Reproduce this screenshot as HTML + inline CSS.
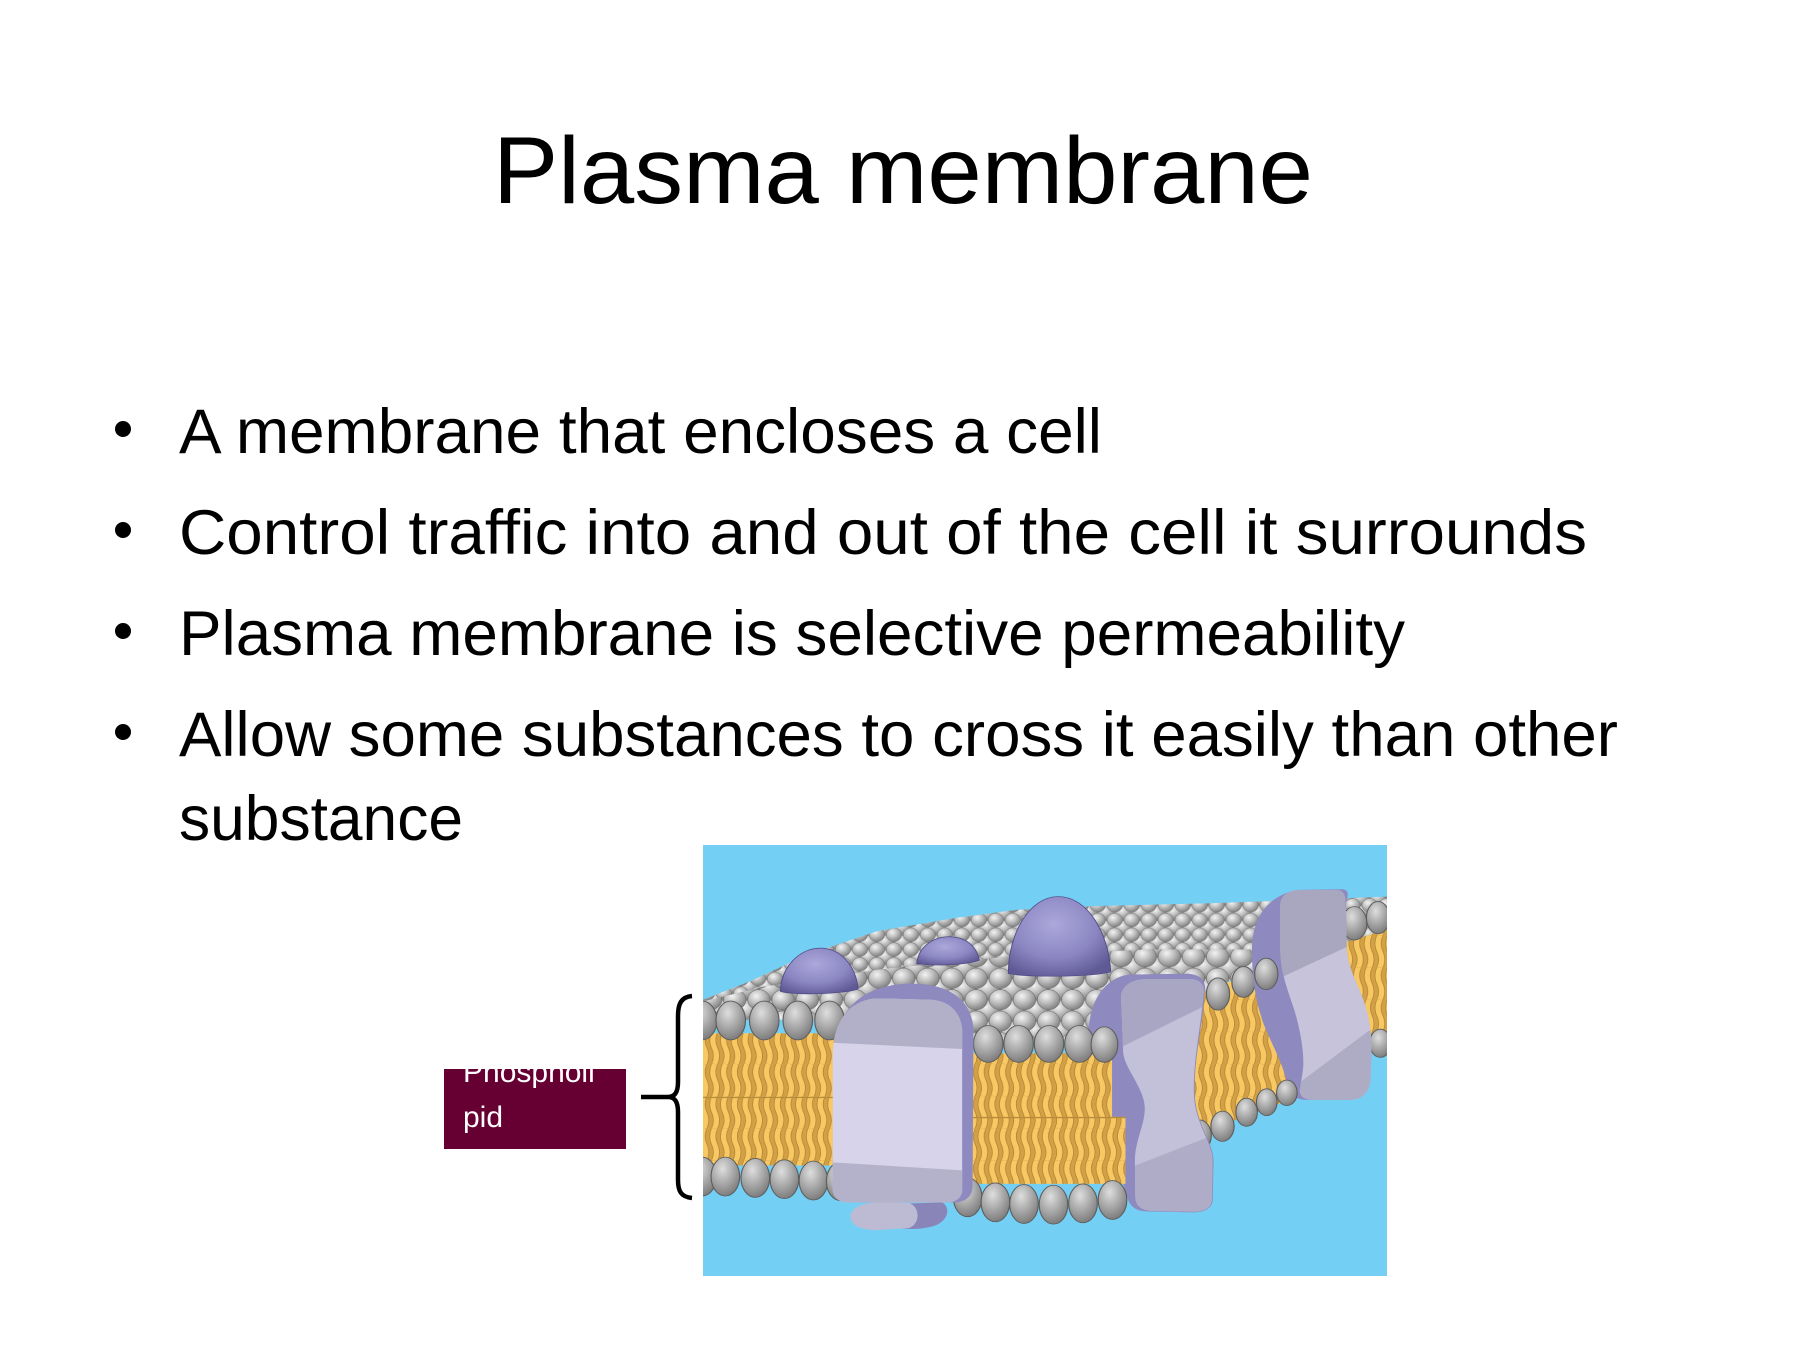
<!DOCTYPE html>
<html>
<head>
<meta charset="utf-8">
<style>
html,body{margin:0;padding:0;background:#ffffff;}
body{width:1800px;height:1351px;overflow:hidden;position:relative;}
svg.main{position:absolute;left:0;top:0;}
</style>
</head>
<body>
<svg class="main" width="1800" height="1351" viewBox="0 0 1800 1351" xmlns="http://www.w3.org/2000/svg">
  <defs>
    <clipPath id="boxclip"><rect x="444" y="1069" width="182" height="80"/></clipPath>
  </defs>
  <rect x="0" y="0" width="1800" height="1351" fill="#ffffff"/>

  <!-- Title -->
  <text x="493" y="203" font-family="'Liberation Sans', Arial, sans-serif" font-size="95" fill="#000" textLength="820" lengthAdjust="spacingAndGlyphs">Plasma membrane</text>

  <!-- Bullets -->
  <g fill="#000">
    <circle cx="123" cy="429" r="8"/>
    <circle cx="123" cy="530" r="8"/>
    <circle cx="123" cy="631" r="8"/>
    <circle cx="123" cy="732" r="8"/>
  </g>
  <g font-family="'Liberation Sans', Arial, sans-serif" font-size="63" fill="#000">
    <text x="179" y="453" textLength="923" lengthAdjust="spacingAndGlyphs">A membrane that encloses a cell</text>
    <text x="179" y="554" textLength="1408" lengthAdjust="spacingAndGlyphs">Control traffic into and out of the cell it surrounds</text>
    <text x="179" y="655" textLength="1226" lengthAdjust="spacingAndGlyphs">Plasma membrane is selective permeability</text>
    <text x="179" y="756" textLength="1439" lengthAdjust="spacingAndGlyphs">Allow some substances to cross it easily than other</text>
    <text x="179" y="840" textLength="284" lengthAdjust="spacingAndGlyphs">substance</text>
  </g>

  <!-- Label box -->
  <rect x="444" y="1069" width="182" height="80" fill="#660033"/>
  <g clip-path="url(#boxclip)" font-family="'Liberation Sans', Arial, sans-serif" font-size="30" fill="#ffffff">
    <text x="463" y="1082">Phospholi</text>
    <text x="463" y="1127">pid</text>
    <text x="463" y="1172">bilayer</text>
  </g>

  <!-- Brace -->
  <path d="M692,996 C681,997 678,1004 678,1016 L678,1082 C678,1092 675,1097 668,1097 L641,1097 M668,1097 C675,1097 678,1102 678,1112 L678,1180 C678,1191 681,1197 692,1198" fill="none" stroke="#000" stroke-width="4.5"/>

  <!-- Membrane illustration -->
  <svg x="703" y="845" width="684" height="431" viewBox="10 18 1530 1287" preserveAspectRatio="none">
    <defs>
      <radialGradient id="bg1" cx="0.38" cy="0.32" r="0.72">
        <stop offset="0" stop-color="#f3f3f3"/>
        <stop offset="0.45" stop-color="#c2c2c2"/>
        <stop offset="1" stop-color="#7d7d7d"/>
      </radialGradient>
      <radialGradient id="hg" cx="0.4" cy="0.3" r="0.78">
        <stop offset="0" stop-color="#dedede"/>
        <stop offset="0.5" stop-color="#a8a8a8"/>
        <stop offset="1" stop-color="#737373"/>
      </radialGradient>
      <radialGradient id="dg" cx="0.45" cy="0.35" r="0.7">
        <stop offset="0" stop-color="#aca8dc"/>
        <stop offset="0.6" stop-color="#8b86c1"/>
        <stop offset="1" stop-color="#5f5a96"/>
      </radialGradient>
      <pattern id="pn" patternUnits="userSpaceOnUse" width="54" height="64">
        <rect width="54" height="64" fill="#8c8c8c"/>
        <g fill="url(#bg1)" stroke="#6e6e6e" stroke-width="1.5">
          <ellipse cx="0" cy="0" rx="25" ry="30"/>
          <ellipse cx="54" cy="0" rx="25" ry="30"/>
          <ellipse cx="0" cy="64" rx="25" ry="30"/>
          <ellipse cx="54" cy="64" rx="25" ry="30"/>
          <ellipse cx="27" cy="32" rx="25" ry="30"/>
        </g>
      </pattern>
      <pattern id="pf" patternUnits="userSpaceOnUse" width="38" height="44">
        <rect width="38" height="44" fill="#939393"/>
        <g fill="url(#bg1)" stroke="#767676" stroke-width="1.2">
          <ellipse cx="0" cy="0" rx="17" ry="20"/>
          <ellipse cx="38" cy="0" rx="17" ry="20"/>
          <ellipse cx="0" cy="44" rx="17" ry="20"/>
          <ellipse cx="38" cy="44" rx="17" ry="20"/>
          <ellipse cx="19" cy="22" rx="17" ry="20"/>
        </g>
      </pattern>
      <pattern id="tl" patternUnits="userSpaceOnUse" width="24" height="96">
        <rect width="24" height="96" fill="#d3a144"/>
        <path d="M12,0 C6.5,16 6.5,32 12,48 C17.5,64 17.5,80 12,96" fill="none" stroke="#a77e38" stroke-width="15"/>
        <path d="M12,0 C6.5,16 6.5,32 12,48 C17.5,64 17.5,80 12,96" fill="none" stroke="#f8c862" stroke-width="12"/>
      </pattern>
      <clipPath id="c1"><path d="M300,650 C300,545 338,480 400,476 L522,480 C565,486 588,522 590,575 L590,1045 C590,1072 575,1086 552,1086 L338,1086 C312,1086 300,1068 300,1045 Z"/></clipPath>
      <clipPath id="c2"><path d="M945,470 C948,432 975,418 1005,418 L1100,418 C1122,420 1132,435 1130,460 L1125,520 C1118,600 1106,680 1108,760 C1110,850 1148,900 1150,960 L1148,1080 C1146,1104 1130,1113 1105,1113 L1010,1110 C990,1108 978,1095 977,1070 L976,960 C976,900 1000,850 998,800 C995,740 955,690 950,640 Z"/></clipPath>
      <clipPath id="c3"><path d="M1301,200 C1301,170 1320,152 1345,152 L1425,152 C1440,152 1447,165 1447,185 L1450,330 C1455,400 1480,440 1492,500 C1502,545 1505,575 1505,640 L1503,720 C1500,760 1482,779 1458,779 L1375,779 C1355,779 1345,768 1345,750 L1352,690 C1356,640 1345,560 1330,500 C1315,440 1303,400 1301,330 Z"/></clipPath>
    </defs>

    <rect x="0" y="0" width="1600" height="1400" fill="#74cff4"/>

    <!-- top surface -->
    <polygon points="10,480 115,425 244,345 400,275 580,235 708,212 890,200 1146,192 1540,172 1540,340 1250,335 1000,335 700,355 400,395 150,445 10,490" fill="url(#pf)"/>
    <polygon points="10,485 150,440 400,390 700,350 1000,330 1250,330 1300,365 1100,470 960,520 945,600 620,600 330,540 10,540" fill="url(#pn)"/>

    <!-- domes -->
    <g fill="url(#dg)" stroke="#4f4a85" stroke-width="2">
      <path d="M183,455 C185,383 225,326 272,326 C318,326 352,378 357,448 C330,463 210,468 183,455 Z"/>
      <path d="M488,372 C492,322 525,292 560,292 C595,292 622,317 628,362 C600,377 520,380 488,372 Z"/>
      <path d="M693,402 C693,282 740,172 805,172 C870,172 918,282 922,397 C880,412 740,414 693,402 Z"/>
    </g>

    <!-- side face -->
    <polygon points="1100,470 1300,370 1540,270 1540,600 1300,790 1100,890" fill="url(#tl)"/>
    <g fill="url(#hg)" stroke="#5c5c5c" stroke-width="2.5">
      <ellipse cx="1162" cy="463" rx="26" ry="48"/>
      <ellipse cx="1219" cy="427" rx="26" ry="46"/>
      <ellipse cx="1467" cy="252" rx="28" ry="50"/>
      <ellipse cx="1520" cy="235" rx="26" ry="48"/>
      <ellipse cx="1120" cy="885" rx="27" ry="46"/>
      <ellipse cx="1172" cy="858" rx="26" ry="45"/>
      <ellipse cx="1226" cy="816" rx="24" ry="42"/>
      <ellipse cx="1525" cy="610" rx="24" ry="42"/>
    </g>

    <!-- P3 -->
    <path d="M1238,330 C1238,240 1270,170 1340,152 L1440,150 C1460,152 1450,175 1448,200 L1450,330 C1455,400 1480,440 1490,500 C1500,540 1505,570 1505,640 L1503,720 C1500,760 1480,779 1455,779 L1360,779 C1335,779 1322,760 1318,735 C1305,660 1280,610 1262,545 C1246,480 1238,420 1238,330 Z" fill="#8e89bf"/>
    <g clip-path="url(#c3)">
      <rect x="1280" y="100" width="260" height="720" fill="#c6c3da"/>
      <polygon points="1280,100 1520,100 1520,279 1280,428" fill="#a9a7bf"/>
      <polygon points="1280,792 1520,552 1520,800 1280,800" fill="#aeacc4"/>
    </g>
    <g fill="url(#hg)" stroke="#5c5c5c" stroke-width="2.5">
      <ellipse cx="1270" cy="403" rx="26" ry="47"/>
      <ellipse cx="1271" cy="786" rx="23" ry="40"/>
      <ellipse cx="1316" cy="758" rx="23" ry="38"/>
    </g>

    <!-- P2 -->
    <path d="M872,600 C870,500 900,420 960,405 L1095,402 C1120,405 1135,420 1133,450 L1128,520 C1120,600 1108,680 1110,760 C1112,850 1150,900 1152,960 L1150,1080 C1148,1105 1130,1115 1105,1115 L1000,1112 C975,1110 962,1092 958,1065 C945,990 905,920 892,850 C878,780 872,700 872,600 Z" fill="#8e89bf"/>
    <g clip-path="url(#c2)">
      <rect x="860" y="300" width="300" height="830" fill="#c3c1d9"/>
      <polygon points="860,300 1160,300 1160,480 860,678" fill="#a8a6c2"/>
      <polygon points="860,1036 1160,880 1160,1130 860,1130" fill="#aeacc6"/>
    </g>

    <!-- middle block -->
    <polygon points="600,640 925,640 925,835 600,835" fill="url(#tl)"/>
    <polygon points="600,830 955,830 955,1030 600,1030" fill="url(#tl)"/>
    <line x1="600" y1="832" x2="955" y2="832" stroke="#b98c3c" stroke-width="4"/>
    <g fill="url(#hg)" stroke="#5c5c5c" stroke-width="2.5">
      <ellipse cx="648" cy="612" rx="33" ry="55"/>
      <ellipse cx="716" cy="612" rx="33" ry="55"/>
      <ellipse cx="784" cy="612" rx="33" ry="55"/>
      <ellipse cx="852" cy="612" rx="33" ry="55"/>
      <ellipse cx="908" cy="614" rx="30" ry="53"/>
      <ellipse cx="602" cy="1070" rx="32" ry="58"/>
      <ellipse cx="664" cy="1085" rx="32" ry="58"/>
      <ellipse cx="728" cy="1090" rx="32" ry="58"/>
      <ellipse cx="794" cy="1092" rx="32" ry="58"/>
      <ellipse cx="860" cy="1088" rx="32" ry="58"/>
      <ellipse cx="926" cy="1078" rx="32" ry="58"/>
    </g>

    <!-- left block -->
    <rect x="0" y="580" width="340" height="195" fill="url(#tl)"/>
    <rect x="0" y="770" width="340" height="205" fill="url(#tl)"/>
    <line x1="0" y1="772" x2="340" y2="772" stroke="#b98c3c" stroke-width="4"/>
    <g fill="url(#hg)" stroke="#5c5c5c" stroke-width="2.5">
      <ellipse cx="8" cy="542" rx="33" ry="58"/>
      <ellipse cx="72" cy="542" rx="33" ry="58"/>
      <ellipse cx="147" cy="542" rx="33" ry="58"/>
      <ellipse cx="222" cy="542" rx="33" ry="58"/>
      <ellipse cx="293" cy="542" rx="33" ry="58"/>
      <ellipse cx="8" cy="1008" rx="32" ry="58"/>
      <ellipse cx="60" cy="1008" rx="32" ry="58"/>
      <ellipse cx="127" cy="1012" rx="32" ry="58"/>
      <ellipse cx="192" cy="1016" rx="32" ry="58"/>
      <ellipse cx="257" cy="1020" rx="32" ry="58"/>
      <ellipse cx="318" cy="1022" rx="32" ry="58"/>
    </g>

    <!-- P1 foot -->
    <path d="M440,1090 L545,1085 C565,1100 560,1145 520,1158 C490,1168 460,1165 440,1160 Z" fill="#8a85b8"/>
    <path d="M340,1128 C340,1098 370,1085 410,1085 L470,1087 C495,1095 498,1150 470,1162 L400,1168 C360,1168 340,1152 340,1128 Z" fill="#bdbbd3"/>

    <!-- P1 -->
    <path d="M302,640 C305,520 360,436 470,432 C560,430 612,480 615,570 L613,1040 C611,1070 596,1085 570,1085 L335,1085 C312,1085 300,1068 300,1045 Z" fill="#8e89bf"/>
    <g clip-path="url(#c1)">
      <rect x="290" y="400" width="330" height="700" fill="#d6d3ea"/>
      <polygon points="290,400 620,400 620,629 290,608" fill="#b2b0c8"/>
      <polygon points="290,965 620,992 620,1100 290,1100" fill="#b4b2ca"/>
    </g>
  </svg>
</svg>
</body>
</html>
